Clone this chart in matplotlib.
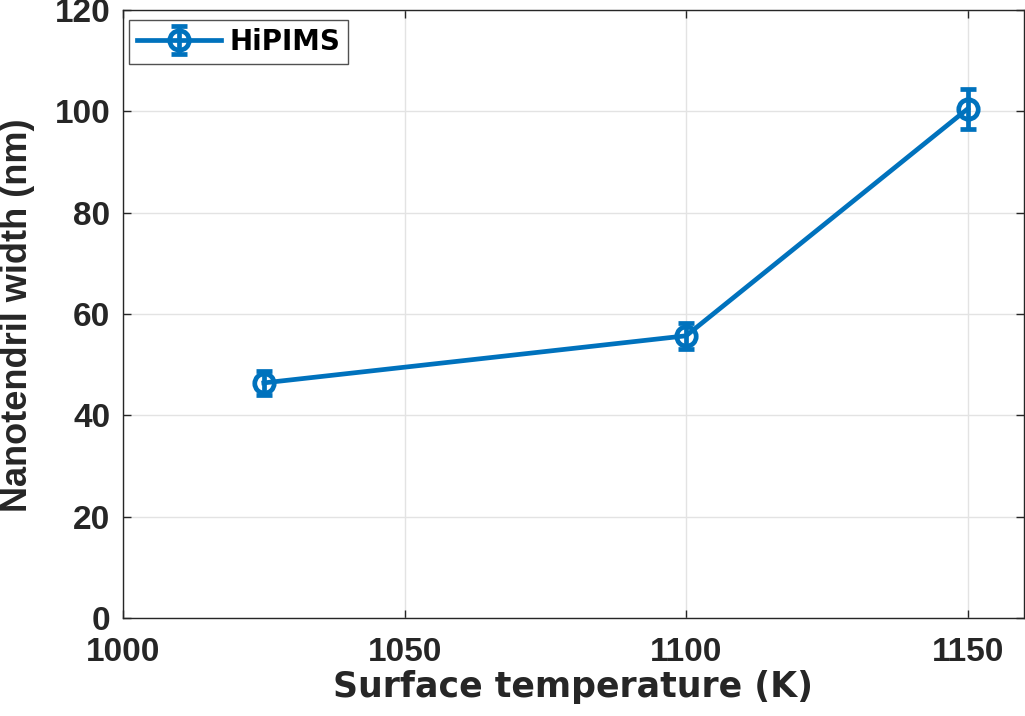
import matplotlib
matplotlib.use("Agg")
import matplotlib.pyplot as plt

# data
temperature = [1025, 1100, 1150]
width_nm = [46.4, 55.7, 100.5]
width_err = [2.4, 2.6, 4.0]

blue = '#0072BD'
dark = '#262626'
plt.rcParams['font.family'] = ['Liberation Sans', 'DejaVu Sans']
plt.rcParams['font.weight'] = 'bold'

fig = plt.figure(figsize=(10.25, 7.16), dpi=100)
ax = fig.add_axes([123/1025, 1 - 618/716, (1024 - 123)/1025, (618 - 10)/716])

ax.errorbar(temperature, width_nm, yerr=width_err, color=blue, lw=3.4,
            marker='o', ms=14, mfc='none', mew=3.4, capsize=6, capthick=3.4,
            elinewidth=3.4, label='HiPIMS')

ax.set_xlim(1000, 1160)
ax.set_ylim(0, 120)
ax.set_xticks([1000, 1050, 1100, 1150])
ax.set_yticks([0, 20, 40, 60, 80, 100, 120])
ax.grid(True, color='#e3e3e3', lw=1)
ax.set_axisbelow(True)
ax.tick_params(direction='in', length=6, width=1, top=True, right=True,
               labelsize=24, colors=dark)
ax.tick_params(axis='y', pad=9)
ax.tick_params(axis='x', pad=14)
for s in ax.spines.values():
    s.set_color(dark)
    s.set_linewidth(1)

ax.set_xlabel('Surface temperature (K)', fontsize=25, fontweight='bold', color=dark,
              family=['DejaVu Sans'])
ax.set_ylabel('Nanotendril width (nm)', fontsize=26, fontweight='bold', color=dark)
ax.xaxis.set_label_coords(0.499, -0.085)
ax.yaxis.set_label_coords(-0.098, 0.498)

leg = ax.legend(loc='upper left', bbox_to_anchor=(0.0067, 0.984), frameon=True,
                fancybox=False, edgecolor=dark, borderaxespad=0, borderpad=0.3,
                handlelength=3.0, handletextpad=0.3,
                prop={'family': ['DejaVu Sans'], 'weight': 'bold', 'size': 20})
leg.get_frame().set_linewidth(1)
for t in leg.get_texts():
    t.set_color('black')

fig.savefig('out.png', dpi=100)
